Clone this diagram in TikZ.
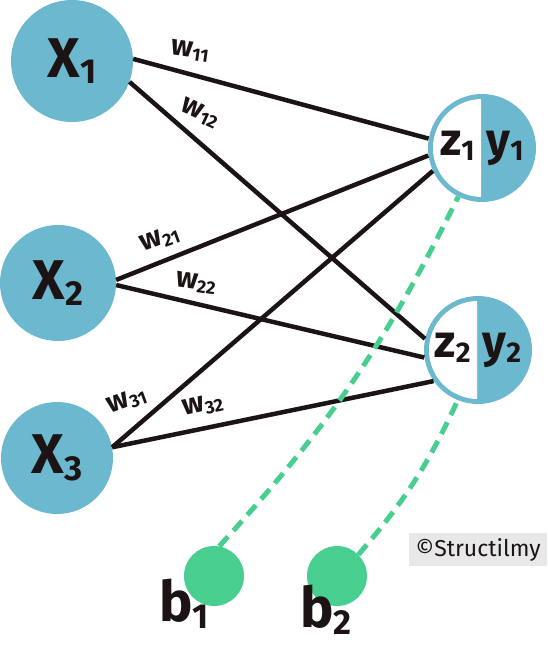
\documentclass[tikz,border=0pt]{standalone}
\usepackage{fontspec}
\setmainfont{Fira Sans}
\usetikzlibrary{positioning}

\definecolor{nnblue}{HTML}{6CB8CE}
\definecolor{nngreen}{HTML}{48CF8F}
\definecolor{nnink}{HTML}{1C1414}
\definecolor{nngray}{HTML}{E8E8EA}

% small lowered index
\newcommand{\nsub}[1]{\raisebox{-0.12em}{\scalebox{0.62}{#1}}}

\tikzset{
  innode/.style={circle, fill=nnblue, inner sep=0pt, minimum size=#1,
    text=nnink, font=\fontsize{56}{58}\selectfont\bfseries},
  outnode/.style={circle, fill=nnblue, inner sep=0pt, minimum size=#1,
    text=nnink, font=\fontsize{46}{48}\selectfont\bfseries,
    path picture={
      \begin{scope}
        \clip (path picture bounding box.south west) rectangle ([xshift=-1pt]path picture bounding box.north);
        \fill[white] (path picture bounding box.center) circle (0.5*#1-5pt);
      \end{scope}}},
  biasnode/.style={circle, fill=nngreen, inner sep=0pt, minimum size=60pt},
  wire/.style={line width=4.5pt, nnink},
  biaswire/.style={line width=5pt, nngreen, dash pattern=on 13pt off 8pt},
  wlab/.style={text=nnink, inner sep=1pt, font=\fontsize{29}{31}\selectfont\bfseries},
  blab/.style={text=nnink, font=\fontsize{56}{58}\selectfont\bfseries},
}

\begin{document}
\begin{tikzpicture}[x=1pt, y=-1pt]

  % canvas, same size as the reference
  \useasboundingbox (0,0) rectangle (547,650);

  % input neurons
  \node[innode=122pt] (x1) at (72,61)  {X\nsub{1}};
  \node[innode=116pt] (x2) at (58,283) {X\nsub{2}};
  \node[innode=112pt] (x3) at (57,458) {X\nsub{3}};

  % output neurons (z | y)
  \node[outnode=108pt] (z1) at (482,148) {z\nsub{1}\hspace{12pt}y\nsub{1}};
  \node[outnode=108pt] (z2) at (478,350) {z\nsub{2}\hspace{12pt}y\nsub{2}};

  % biases
  \node[biasnode] (b1) at (214,576) {};
  \node[biasnode] (b2) at (337,576) {};
  \node[blab] (b1l) at (184,604) {b\nsub{1}};
  \node[blab] (b2l) at (326,610) {b\nsub{2}};

  % weights
  \draw[wire] (x1.2)   -- (z1.170);
  \draw[wire] (x1.-20) -- (z2.168);
  \draw[wire] (x2.3)   -- (z1.188);
  \draw[wire] (x2.-2)  -- (z2.188);
  \draw[wire] (x3.11)  -- (z1.205);
  \draw[wire] (x3.11)  -- (z2.215);

  % bias connections
  \draw[biaswire] (b1.80) to[bend right=8] (z1.244);
  \draw[biaswire] (b2.45) to[bend right=8] (z2.248);

  % weight labels
  \node[wlab, rotate=-8]  (w11) at (190,51)  {w\nsub{11}};
  \node[wlab, rotate=-25] (w12) at (200,113) {w\nsub{12}};
  \node[wlab, rotate=20]  (w21) at (160,239) {w\nsub{21}};
  \node[wlab, rotate=-8]  (w22) at (196,283) {w\nsub{22}};
  \node[wlab, rotate=20]  (w31) at (127,401) {w\nsub{31}};
  \node[wlab, rotate=12]  (w32) at (203,406) {w\nsub{32}};

  % credit
  \node[fill=nngray, text=nnink, anchor=north west, minimum width=138pt,
        minimum height=33pt, font=\fontsize{23}{25}\selectfont] (credit) at (409,533) {©Structilmy};

\end{tikzpicture}
\end{document}
